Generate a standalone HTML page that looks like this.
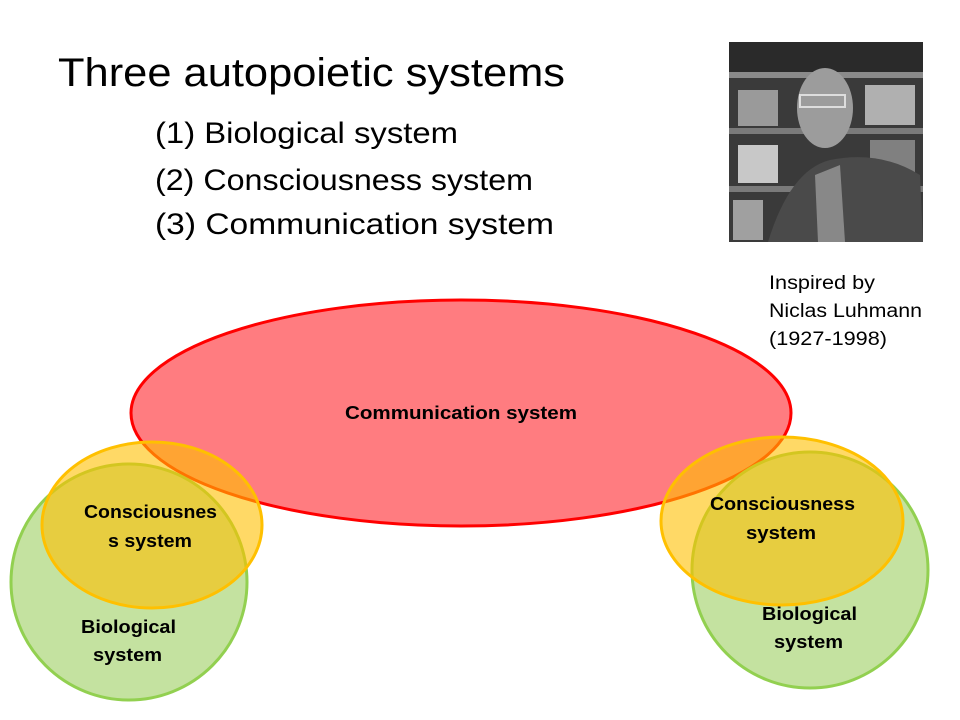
<!DOCTYPE html>
<html><head><meta charset="utf-8"><style>
html,body{margin:0;padding:0;background:#fff;width:960px;height:720px;overflow:hidden}
svg{display:block}
text{font-family:"Liberation Sans",sans-serif}
</style></head><body>
<svg width="960" height="720" viewBox="0 0 960 720" xmlns="http://www.w3.org/2000/svg">
<rect width="960" height="720" fill="#fff"/>
<text x="58" y="86" font-size="40" fill="#000" textLength="507" lengthAdjust="spacingAndGlyphs">Three autopoietic systems</text>
<text x="155" y="143" font-size="30" fill="#000" textLength="303" lengthAdjust="spacingAndGlyphs">(1) Biological system</text>
<text x="155" y="190" font-size="30" fill="#000" textLength="378" lengthAdjust="spacingAndGlyphs">(2) Consciousness system</text>
<text x="155" y="234" font-size="30" fill="#000" textLength="399" lengthAdjust="spacingAndGlyphs">(3) Communication system</text>

<!-- photo -->
<g>
<rect x="729" y="42" width="194" height="200" fill="#3a3a3a"/>
<rect x="729" y="42" width="194" height="30" fill="#2a2a2a"/>
<rect x="729" y="72" width="194" height="6" fill="#8a8a8a"/>
<rect x="729" y="128" width="194" height="6" fill="#7a7a7a"/>
<rect x="729" y="186" width="194" height="6" fill="#7a7a7a"/>
<rect x="738" y="90" width="40" height="36" fill="#9a9a9a"/>
<rect x="865" y="85" width="50" height="40" fill="#b0b0b0"/>
<rect x="738" y="145" width="40" height="38" fill="#c8c8c8"/>
<rect x="870" y="140" width="45" height="40" fill="#808080"/>
<rect x="733" y="200" width="30" height="40" fill="#a0a0a0"/>
<path d="M768 242 Q790 170 830 160 Q880 150 920 175 L923 242 Z" fill="#4a4a4a"/>
<ellipse cx="825" cy="108" rx="28" ry="40" fill="#9c9c9c"/>
<rect x="800" y="95" width="45" height="12" fill="none" stroke="#ddd" stroke-width="2"/>
<path d="M815 175 L840 165 L845 242 L818 242 Z" fill="#888"/>
</g>
<text x="769" y="289" font-size="19" fill="#000" textLength="106" lengthAdjust="spacingAndGlyphs">Inspired by</text>
<text x="769" y="317" font-size="19" fill="#000" textLength="153" lengthAdjust="spacingAndGlyphs">Niclas Luhmann</text>
<text x="769" y="345" font-size="19" fill="#000" textLength="118" lengthAdjust="spacingAndGlyphs">(1927-1998)</text>

<ellipse cx="461" cy="413" rx="330" ry="113" fill="#ff7c80" stroke="#ff0000" stroke-width="3"/>
<circle cx="129" cy="582" r="118" fill="#c4e2a0" stroke="#92d050" stroke-width="3"/>
<ellipse cx="152" cy="525" rx="110" ry="83" fill="#ffc000" fill-opacity="0.6" stroke="#ffc000" stroke-width="3"/>
<circle cx="810" cy="570" r="118" fill="#c4e2a0" stroke="#92d050" stroke-width="3"/>
<ellipse cx="782" cy="521" rx="121" ry="84" fill="#ffc000" fill-opacity="0.6" stroke="#ffc000" stroke-width="3"/>

<g font-weight="bold" font-size="18" fill="#000" lengthAdjust="spacingAndGlyphs">
<text x="345" y="419" textLength="232" lengthAdjust="spacingAndGlyphs">Communication system</text>
<text x="84" y="518" textLength="133" lengthAdjust="spacingAndGlyphs">Consciousnes</text>
<text x="108" y="547" textLength="84" lengthAdjust="spacingAndGlyphs">s system</text>
<text x="81" y="633" textLength="95" lengthAdjust="spacingAndGlyphs">Biological</text>
<text x="93" y="661" textLength="69" lengthAdjust="spacingAndGlyphs">system</text>
<text x="710" y="510" textLength="145" lengthAdjust="spacingAndGlyphs">Consciousness</text>
<text x="746" y="539" textLength="70" lengthAdjust="spacingAndGlyphs">system</text>
<text x="762" y="620" textLength="95" lengthAdjust="spacingAndGlyphs">Biological</text>
<text x="774" y="648" textLength="69" lengthAdjust="spacingAndGlyphs">system</text>
</g>
</svg>
</body></html>
